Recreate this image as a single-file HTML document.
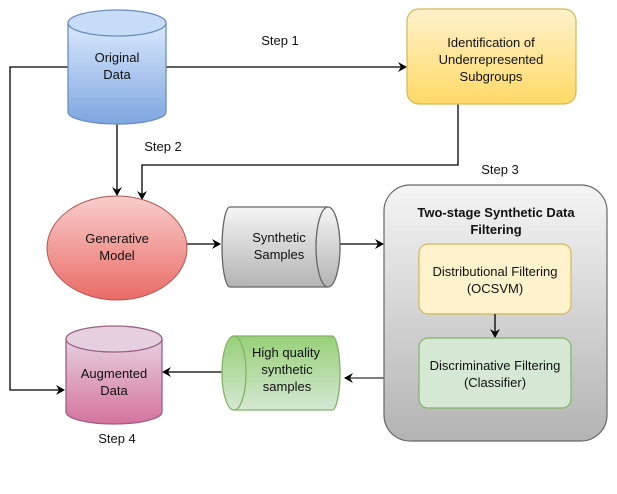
<!DOCTYPE html>
<html><head><style>
body{margin:0;background:#fff}
svg text{font-family:"Liberation Sans",Arial,sans-serif;font-size:13px;fill:#111}
</style></head><body>
<svg width="617" height="489" viewBox="0 0 617 489" xmlns="http://www.w3.org/2000/svg">
<defs>
<linearGradient id="gb" x1="0" y1="0" x2="0" y2="1"><stop offset="0" stop-color="#dae8fc"/><stop offset="1" stop-color="#7ea6e0"/></linearGradient>
<linearGradient id="gy" x1="0" y1="0" x2="0" y2="1"><stop offset="0" stop-color="#fff2cc"/><stop offset="1" stop-color="#ffd966"/></linearGradient>
<linearGradient id="gr" x1="0" y1="0" x2="0" y2="1"><stop offset="0" stop-color="#f8cecc"/><stop offset="1" stop-color="#ea6b66"/></linearGradient>
<linearGradient id="gg" x1="0" y1="0" x2="0" y2="1"><stop offset="0" stop-color="#f5f5f5"/><stop offset="1" stop-color="#b3b3b3"/></linearGradient>
<linearGradient id="gc" x1="0" y1="0" x2="0" y2="1"><stop offset="0" stop-color="#f5f5f5"/><stop offset="1" stop-color="#b3b3b3"/></linearGradient>
<linearGradient id="gn" x1="0" y1="0" x2="0" y2="1"><stop offset="0" stop-color="#97d077"/><stop offset="1" stop-color="#d5e8d4"/></linearGradient>
<linearGradient id="gp" x1="0" y1="0" x2="0" y2="1"><stop offset="0" stop-color="#e6d0de"/><stop offset="1" stop-color="#d5739d"/></linearGradient>
<marker id="a" markerWidth="10" markerHeight="10" refX="8" refY="5" orient="auto" markerUnits="userSpaceOnUse"><path d="M0,0 L9,5 L0,10 L3,5 z" fill="#000"/></marker>
</defs>
<g stroke="#000" stroke-width="1.3" fill="none">
<path d="M68,67 H10 V390 H64" marker-end="url(#a)"/>
<path d="M166,67 H406" marker-end="url(#a)"/>
<path d="M117,124 V195" marker-end="url(#a)"/>
<path d="M458,104 V165 H142 V199" marker-end="url(#a)"/>
<path d="M187,244 H220" marker-end="url(#a)"/>
<path d="M340,244 H383" marker-end="url(#a)"/>
<path d="M222,372 H163" marker-end="url(#a)"/>
</g>
<path d="M384,378 H345" stroke="#555" stroke-width="1.6" marker-end="url(#a)"/>
<path d="M68,23 V112 A49,12 0 0 0 166,112 V23" fill="url(#gb)" stroke="#6c8ebf" stroke-width="1.3"/>
<ellipse cx="117" cy="23" rx="49" ry="13" fill="#c6dcf7" stroke="#6c8ebf" stroke-width="1.3"/>
<text x="117" y="62" text-anchor="middle">Original</text><text x="117" y="79" text-anchor="middle">Data</text>
<rect x="407" y="9" width="169" height="95" rx="12" fill="url(#gy)" stroke="#d6b656" stroke-width="1.2"/>
<text x="491" y="47" text-anchor="middle">Identification of</text>
<text x="491" y="64" text-anchor="middle">Underrepresented</text>
<text x="491" y="81" text-anchor="middle">Subgroups</text>
<text x="280" y="45" text-anchor="middle">Step 1</text>
<text x="163" y="151" text-anchor="middle">Step 2</text>
<text x="500" y="174" text-anchor="middle">Step 3</text>
<text x="117" y="443" text-anchor="middle">Step 4</text>
<ellipse cx="117" cy="248" rx="70" ry="52" fill="url(#gr)" stroke="#b85450" stroke-width="1"/>
<text x="117" y="243" text-anchor="middle">Generative</text><text x="117" y="260" text-anchor="middle">Model</text>
<path d="M230,207 H328 A12,40 0 0 1 328,287 H230 A8,40 0 0 1 230,207 z" fill="url(#gc)" stroke="#666" stroke-width="1.3"/>
<path d="M328,207 A12,40 0 0 0 328,287" fill="none" stroke="#666" stroke-width="1.3"/>
<text x="279" y="242" text-anchor="middle">Synthetic</text><text x="279" y="259" text-anchor="middle">Samples</text>
<rect x="384" y="185" width="223" height="256" rx="26" fill="url(#gg)" stroke="#666" stroke-width="1.2"/>
<text x="496" y="217" text-anchor="middle" font-weight="bold">Two-stage Synthetic Data</text>
<text x="496" y="234" text-anchor="middle" font-weight="bold">Filtering</text>
<rect x="419" y="244" width="152" height="70" rx="9" fill="#fff2cc" stroke="#d6b656" stroke-width="1.2"/>
<text x="495" y="276" text-anchor="middle">Distributional Filtering</text><text x="495" y="293" text-anchor="middle">(OCSVM)</text>
<path d="M495,314 V337" stroke="#000" stroke-width="1.3" marker-end="url(#a)"/>
<rect x="419" y="338" width="152" height="70" rx="9" fill="#d5e8d4" stroke="#82b366" stroke-width="1.2"/>
<text x="495" y="370" text-anchor="middle">Discriminative Filtering</text><text x="495" y="387" text-anchor="middle">(Classifier)</text>
<path d="M234,336 H332 A8,37 0 0 1 332,410 H234 A12,37 0 0 1 234,336 z" fill="url(#gn)" stroke="#82b366" stroke-width="1.3"/>
<path d="M234,336 A12,37 0 0 1 234,410" fill="none" stroke="#82b366" stroke-width="1.3"/>
<text x="286" y="357" text-anchor="middle">High quality</text><text x="287" y="374" text-anchor="middle">synthetic</text><text x="287" y="391" text-anchor="middle">samples</text>
<path d="M66,339 V412 A48,12 0 0 0 162,412 V339" fill="url(#gp)" stroke="#996185" stroke-width="1.3"/>
<ellipse cx="114" cy="339" rx="48" ry="13" fill="#e6cfdf" stroke="#996185" stroke-width="1.3"/>
<text x="114" y="378" text-anchor="middle">Augmented</text><text x="114" y="395" text-anchor="middle">Data</text>
</svg>
</body></html>
